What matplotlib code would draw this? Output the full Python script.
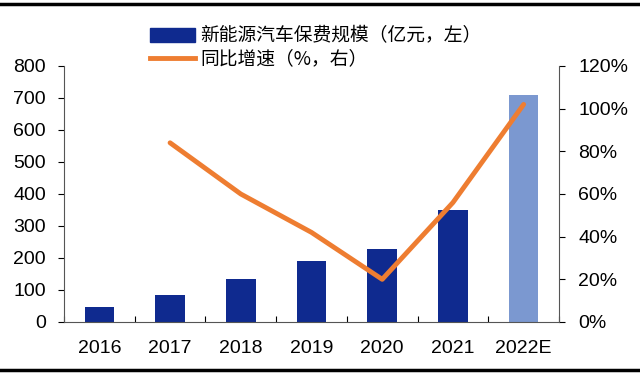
import matplotlib
matplotlib.use("Agg")
import matplotlib.pyplot as plt
from matplotlib.lines import Line2D
from matplotlib.patches import Patch
import numpy as np

categories = ["2016", "2017", "2018", "2019", "2020", "2021", "2022E"]
premium = [48, 84, 135, 190, 227, 351, 709]
growth_years = ["2017", "2018", "2019", "2020", "2021", "2022E"]
growth = [84, 60, 42, 20, 56, 102]
left_ticks = [0, 100, 200, 300, 400, 500, 600, 700, 800]
right_ticks = [0, 20, 40, 60, 80, 100, 120]

plt.rcParams['font.family'] = ['Liberation Sans', 'Noto Sans CJK SC']
fig = plt.figure(figsize=(6.4, 3.79), dpi=100)
W, H = 640, 379
ax = fig.add_axes([64 / W, 1 - 322 / H, (559 - 64) / W, (322 - 66) / H])
x = np.arange(len(categories))
colors = ['#0F2A8F'] * (len(categories) - 1) + ['#7B98D0']
ax.bar(x, premium, width=0.42, color=colors, zorder=2)
ax.set_xlim(-0.5, len(categories) - 0.5)
ax.set_ylim(0, 800)
ax.set_yticks(left_ticks)
ax.set_xticks(x)
ax.set_xticklabels(categories)
ax.set_xticks(np.arange(len(categories) + 1) - 0.5, minor=True)
ax.tick_params(axis='x', which='major', length=0, labelsize=14, pad=13)
ax.tick_params(axis='x', which='minor', length=4, direction='in', width=0.8)
ax.tick_params(axis='y', labelsize=14, length=4, width=0.8, pad=9)
for s in ['top', 'right']:
    ax.spines[s].set_visible(False)
for s in ['left', 'bottom']:
    ax.spines[s].set_linewidth(0.8)
    ax.spines[s].set_color('#555555')

ax2 = ax.twinx()
gx = [categories.index(g) for g in growth_years]
ax2.plot(gx, growth, color='#EE7D31', lw=3.5, solid_capstyle='round', zorder=3)
ax2.set_ylim(0, 120)
ax2.set_yticks(right_ticks)
ax2.set_yticklabels([f"{t}%" for t in right_ticks])
ax2.tick_params(axis='y', labelsize=14, length=4, width=0.8, pad=10)
for s in ['top', 'left', 'bottom']:
    ax2.spines[s].set_visible(False)
ax2.spines['right'].set_linewidth(0.8)
ax2.spines['right'].set_color('#555555')

handles = [Patch(color='#0F2A8F'), Line2D([0], [0], color='#EE7D31', lw=3.5)]
labels = ["新能源汽车保费规模（亿元，左）", "同比增速（%，右）"]
fig.legend(handles, labels, loc='upper left', bbox_to_anchor=(142 / W, 1 - 18 / H),
           frameon=False, handlelength=2.4, handletextpad=0.3,
           labelspacing=0.1, borderaxespad=0, prop={'family': ['Noto Sans CJK SC'], 'size': 13.5})

fig.add_artist(Line2D([0, 1], [1 - 4 / H, 1 - 4 / H], color='black', lw=2.5, transform=fig.transFigure))
fig.add_artist(Line2D([0, 1], [1 - 370 / H, 1 - 370 / H], color='black', lw=2.5, transform=fig.transFigure))

fig.savefig("out.png", dpi=100)
